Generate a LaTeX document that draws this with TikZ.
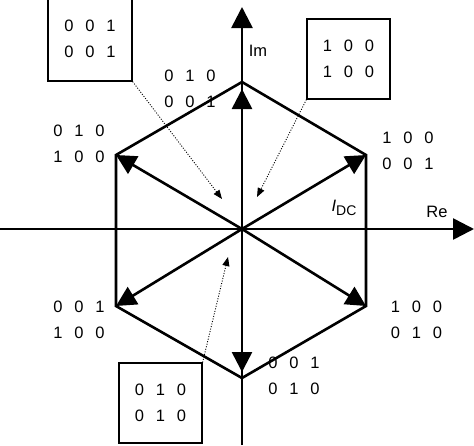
\documentclass[tikz,border=0pt]{standalone}
\usepackage{fontspec}
\setmainfont{Liberation Sans}
\newfontfamily\bitfont[WordSpace=2.6]{Liberation Sans}
\usetikzlibrary{positioning,arrows.meta}
\tikzset{
  axis/.style={line width=2.6pt, -{Triangle[length=21pt,width=21pt]}},
  hexline/.style={line width=2.6pt, line join=miter},
  vec/.style={line width=2.6pt, -{Triangle[length=20pt,width=20pt]}},
  bits/.style={align=center, inner sep=0pt, font=\bitfont\fontsize{16.5}{26}\selectfont},
  statebox/.style={draw, line width=1.2pt, align=center, inner sep=0pt, font=\bitfont\fontsize{16.5}{26}\selectfont},
  pointer/.style={line width=0.9pt, dash pattern=on 1pt off 1.6pt, -{Triangle[length=9pt,width=7pt]}},
  axlabel/.style={inner sep=0pt, font=\fontsize{16.5}{20}\selectfont}
}

\begin{document}
\begin{tikzpicture}[x=1pt, y=-1pt]
  \useasboundingbox (0,0) rectangle (474,445);
  % origin, axis ends and hexagon corners
  \coordinate (O) at (242,229);
  \coordinate (xL) at (0,229);
  \coordinate (xR) at (474,229);
  \coordinate (yB) at (242,445);
  \coordinate (yT) at (242,7);
  \coordinate (top) at (242,82);
  \coordinate (ur) at (366,155);
  \coordinate (lr) at (366,306);
  \coordinate (bot) at (242,378);
  \coordinate (ll) at (116,306);
  \coordinate (ul) at (116,155);
  \coordinate (t1) at (222,199);
  \coordinate (t2) at (257,197);
  \coordinate (t3) at (228,257);

  \draw[axis] (xL) -- (xR);
  \draw[axis] (yB) -- (yT);
  \draw[hexline] (top) -- (ur) -- (lr) -- (bot) -- (ll) -- (ul) -- cycle;
  \draw[vec] (O) -- (ur);
  \draw[vec] (O) -- (lr);
  \draw[vec] (O) -- (ll);
  \draw[vec] (O) -- (ul);
  \draw[vec, shorten >=7pt] (O) -- (top);
  \draw[vec, shorten >=6pt] (O) -- (bot);

  \node[axlabel] (im) at (258,51) {Im};
  \node[axlabel] (re) at (437,212) {Re};
  \node[axlabel] (idc) at (344,208) {\textit{I}\raisebox{-4pt}{\fontsize{14}{14}\selectfont DC}};

  % switching states at the corners
  \node[bits] (s-top) at (190,88.5) {0 1 0\\0 0 1};
  \node[bits] (s-ul) at (79,144) {0 1 0\\1 0 0};
  \node[bits] (s-ur) at (408,150.5) {1 0 0\\0 0 1};
  \node[bits] (s-ll) at (79,319.5) {0 0 1\\1 0 0};
  \node[bits] (s-lr) at (416.5,320) {1 0 0\\0 1 0};
  \node[bits] (s-bot) at (294,375.5) {0 0 1\\0 1 0};

  % zero states
  \node[statebox, minimum width=84pt, minimum height=85pt] (z1) at (90,38.5) {0 0 1\\0 0 1};
  \node[statebox, minimum width=83pt, minimum height=80pt] (z2) at (348.5,59) {1 0 0\\1 0 0};
  \node[statebox, minimum width=83pt, minimum height=80pt] (z3) at (160.5,403) {0 1 0\\0 1 0};
  \draw[pointer] (z1.south east) -- (t1);
  \draw[pointer] (z2.south west) -- (t2);
  \draw[pointer] (z3.north east) -- (t3);
\end{tikzpicture}
\end{document}
